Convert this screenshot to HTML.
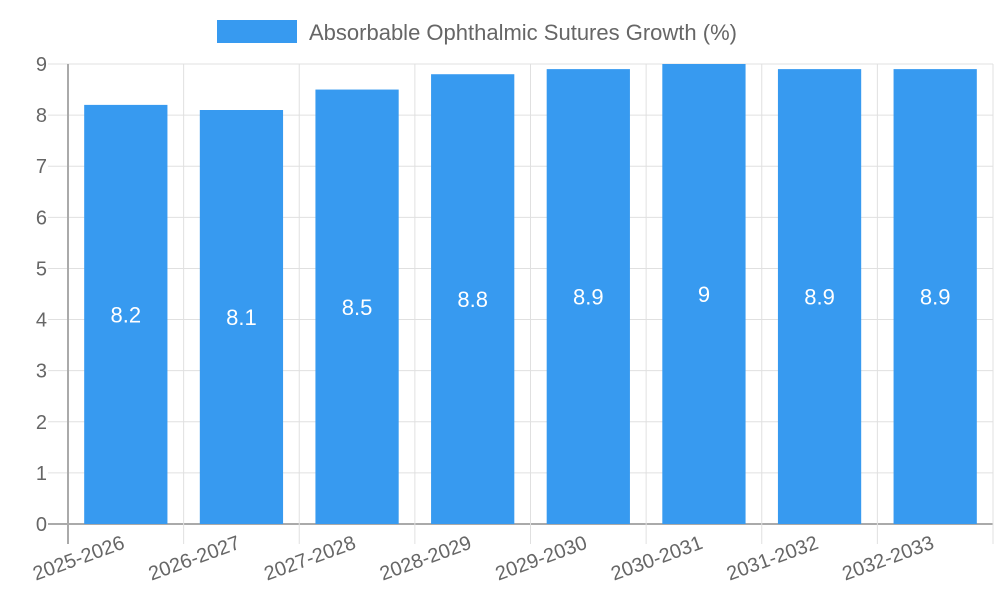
<!DOCTYPE html>
<html><head><meta charset="utf-8"><style>body{margin:0;background:#fff}svg{display:block;font-family:"Liberation Sans",sans-serif}</style></head>
<body>
<svg id="c" width="1000" height="600"></svg>
<script>
const categories=["2025-2026","2026-2027","2027-2028","2028-2029","2029-2030","2030-2031","2031-2032","2032-2033"];
const values=[8.2,8.1,8.5,8.8,8.9,9,8.9,8.9];
const yTicks=[0,1,2,3,4,5,6,7,8,9];
const L=68,R=993,T=64,B=524,yMax=9;
const NS="http://www.w3.org/2000/svg",svg=document.getElementById('c');
function y(v){return B-(v/yMax)*(B-T);}
const bw=(R-L)/categories.length;
function x(i){return L+bw*i;}
function mk(t,a,p){const e=document.createElementNS(NS,t);for(const k in a)e.setAttribute(k,a[k]);(p||svg).appendChild(e);return e;}
const g=mk('g',{});
yTicks.forEach(v=>{mk('line',{x1:L-20,x2:R,y1:y(v),y2:y(v),stroke:v===0?'#aaa':'#e0e0e0','stroke-width':v===0?2:1},g);
const t=mk('text',{x:47,y:y(v)+7,'text-anchor':'end','font-size':20,fill:'#666'});t.textContent=v;
});
for(let i=0;i<=categories.length;i++){mk('line',{x1:x(i),x2:x(i),y1:T,y2:B+20,stroke:i===0?'#aaa':'#e0e0e0','stroke-width':i===0?2:1},g);}
categories.forEach((c,i)=>{const cx=x(i)+bw/2,w=bw*0.72;
const r=mk('rect',{x:cx-w/2,y:y(values[i]),width:w,height:B-y(values[i]),fill:'#379af0'});

const vt=mk('text',{x:cx,y:(y(values[i])+B)/2+8,'text-anchor':'middle','font-size':22,fill:'#fff'});vt.textContent=values[i];

const tl=mk('text',{x:cx,y:548,'text-anchor':'end','font-size':20,fill:'#666',transform:`rotate(-20 ${cx} 548)`});tl.textContent=c;
});
const lg=mk('g',{});
mk('rect',{x:217,y:20,width:80,height:23,fill:'#379af0'},lg);
const lt=mk('text',{x:309,y:40,'font-size':22,fill:'#666'},lg);lt.textContent="Absorbable Ophthalmic Sutures Growth (%)";
</script>
</body></html>
